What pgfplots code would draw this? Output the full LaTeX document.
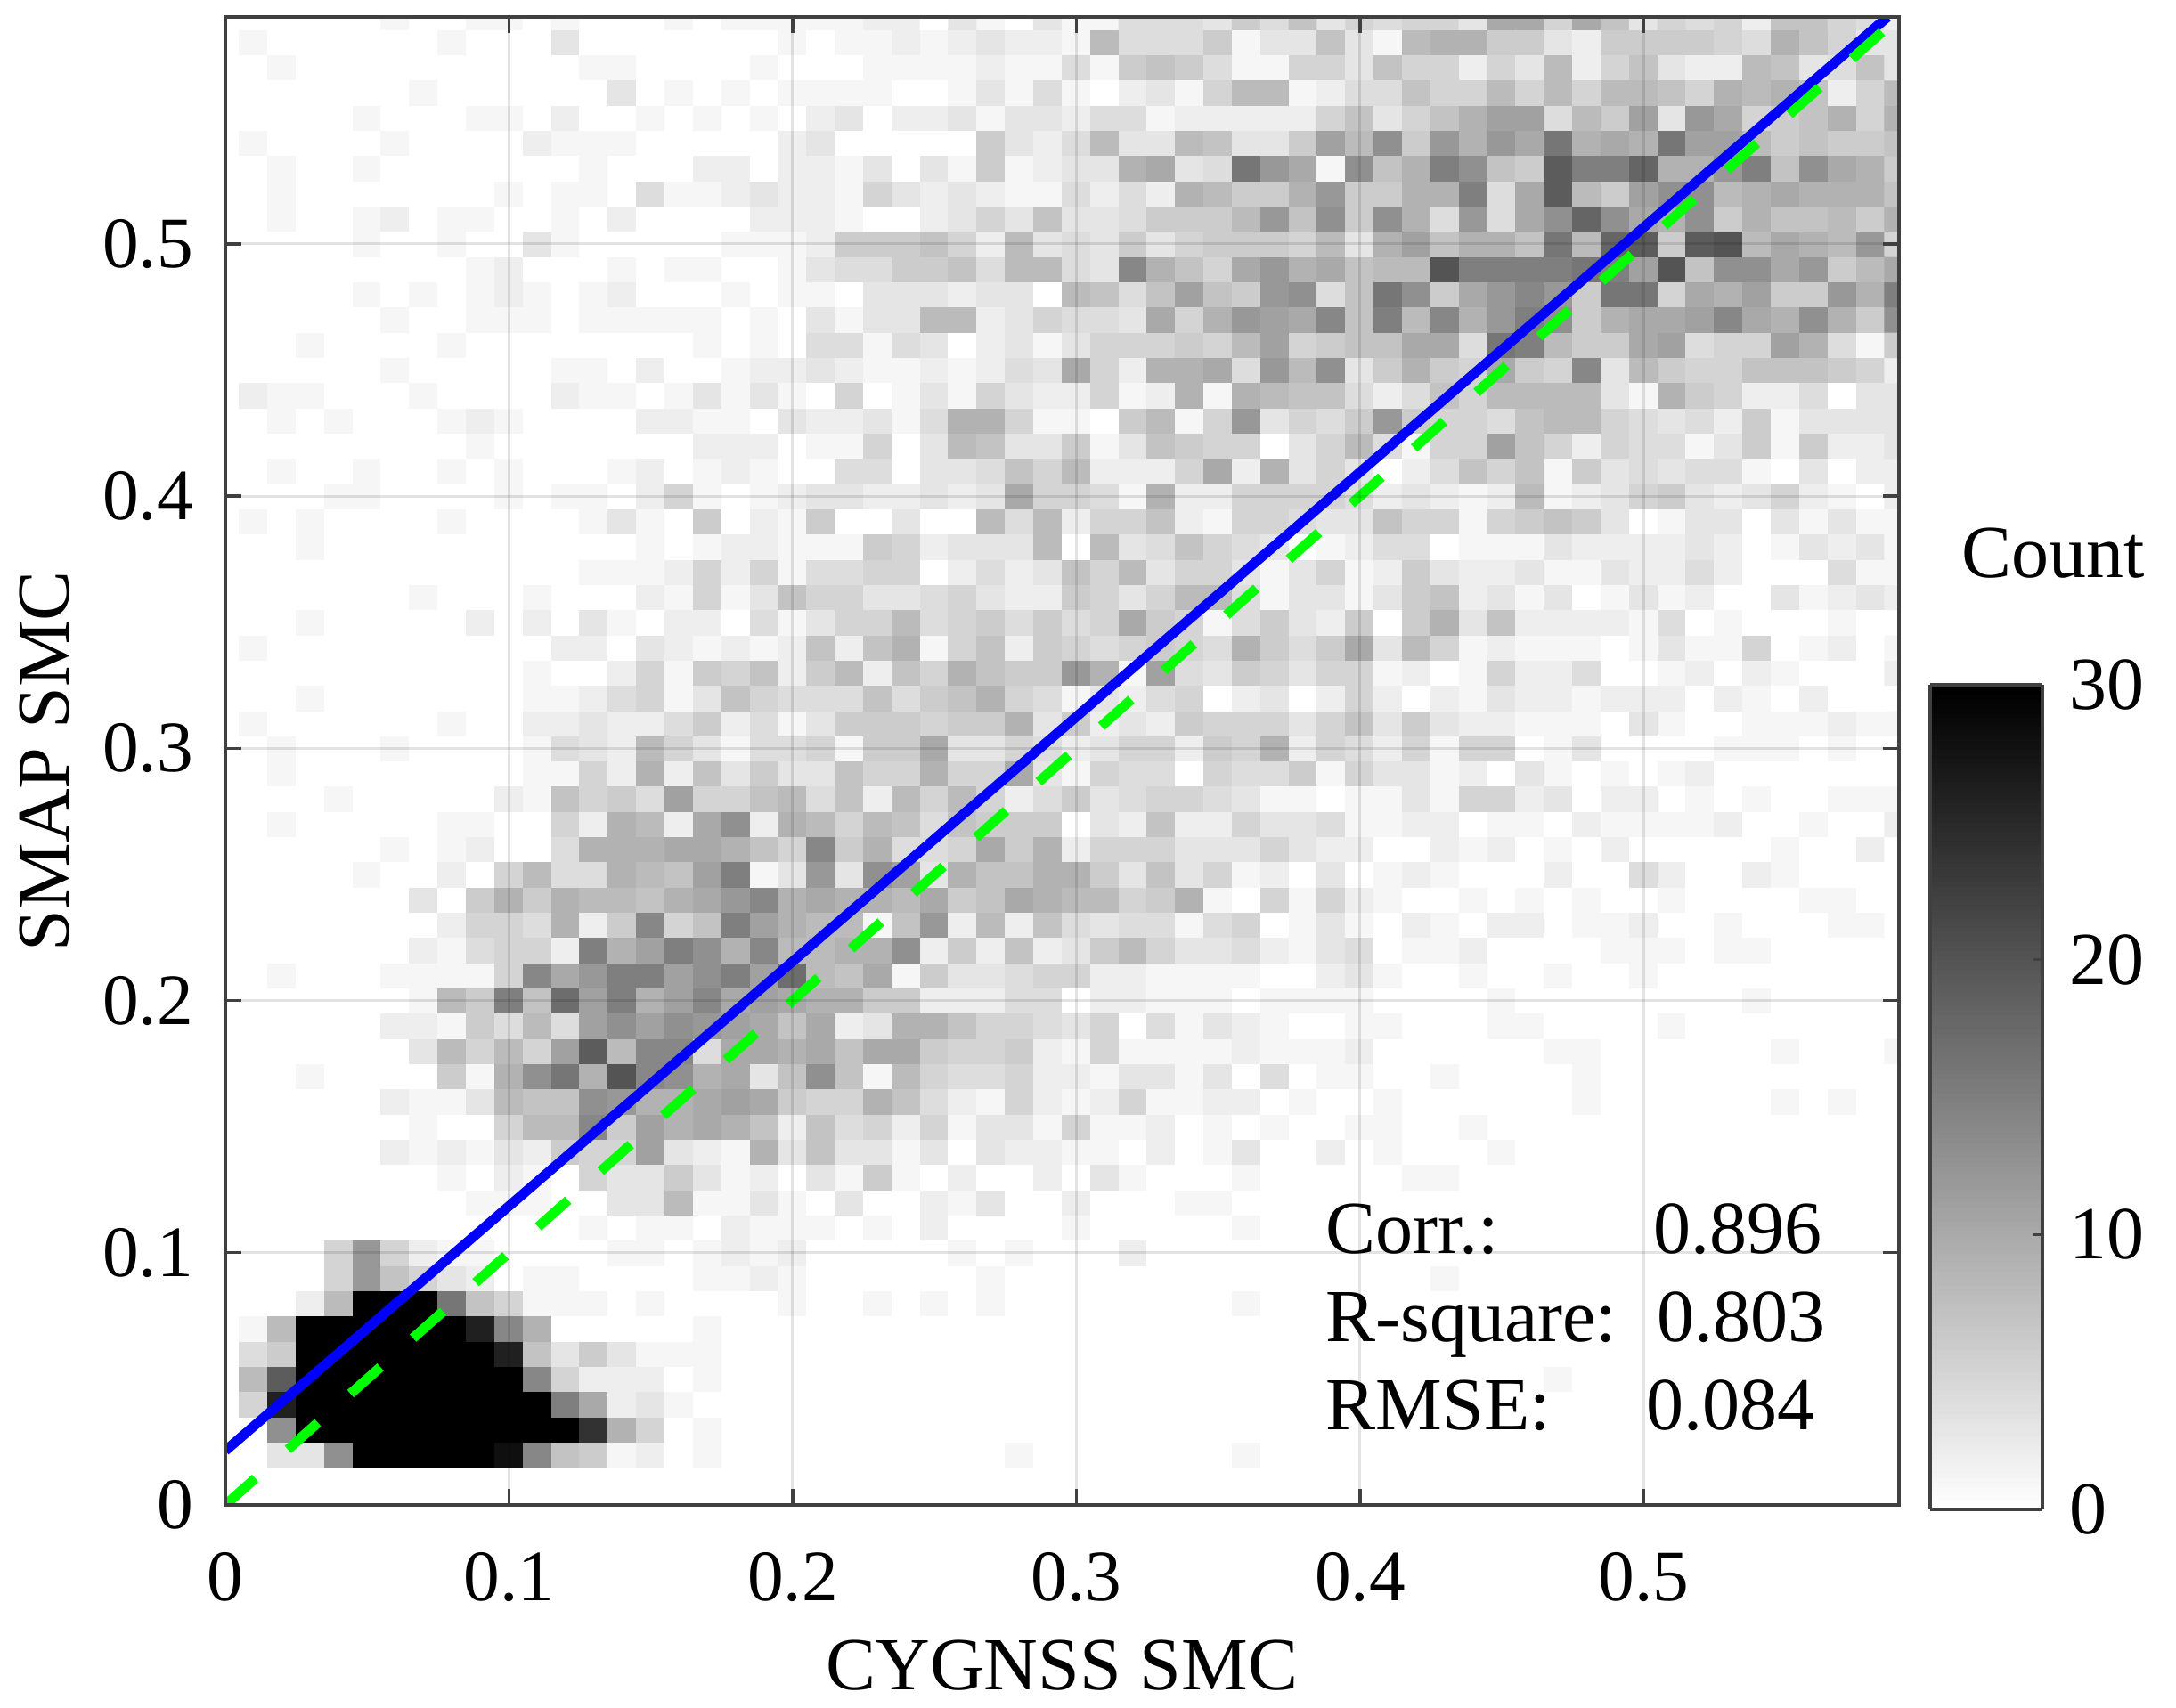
\documentclass[border=0pt]{standalone}
\usepackage{fontspec}
\setmainfont{Liberation Serif}
\usepackage{pgfplots}
\usepackage{pgfplotstable}
\pgfplotsset{compat=1.18}
\newcommand\lab{\fontsize{25.2}{29}\selectfont}
\newcommand\tik{\fontsize{24.4}{28}\selectfont}
\definecolor{frame}{HTML}{404040}
\pgfplotstableread[header=false]{
0 0 0 0 0 0 1 0 0 1 1 0 1 0 0 0 1 0 1 1 1 1 1 2 2 0 3 1 0 3 1 1 4 4 4 3 6 4 7 3 5 4 5 5 3 10 10 5 10 7 3 5 4 5 2 7 7 5 4 2
0 1 0 0 0 0 0 0 1 0 0 0 3 0 0 0 0 0 0 0 1 0 1 1 2 1 2 3 2 2 1 8 4 4 4 6 1 3 3 7 3 1 8 9 9 6 6 3 2 6 6 6 6 5 4 9 7 5 3 3
0 0 1 0 0 0 0 0 0 0 0 0 0 1 1 0 0 0 0 1 0 0 0 1 1 1 1 2 1 1 4 1 6 7 6 4 1 1 5 5 3 7 5 5 2 5 3 8 2 5 7 3 2 2 8 7 3 4 7 3
0 0 0 0 0 0 0 1 0 0 0 0 0 0 3 0 1 0 1 0 1 1 1 1 0 0 1 3 1 4 1 0 2 3 1 5 8 8 1 2 4 4 7 5 5 8 5 8 5 8 8 7 5 9 8 9 7 2 5 8
0 0 0 0 0 1 0 0 0 1 1 0 2 0 0 1 0 1 0 1 0 2 3 0 2 2 3 1 3 3 2 4 4 1 2 2 2 2 2 5 7 3 5 7 9 11 11 4 8 6 11 3 12 10 5 6 7 9 5 9
0 1 0 0 0 0 1 0 0 0 0 2 1 1 1 0 0 0 0 0 2 3 0 0 0 0 0 6 3 2 4 8 3 3 8 7 3 3 6 11 8 13 6 12 9 12 10 16 9 10 9 16 11 11 8 6 7 6 6 7
0 0 1 0 0 1 0 0 0 0 0 0 0 1 0 0 0 2 2 0 2 2 1 3 0 3 1 6 1 2 3 3 9 10 3 4 16 12 10 1 13 7 9 15 13 7 6 19 15 15 18 9 9 12 15 7 13 10 9 6
0 0 1 0 0 0 0 0 0 0 1 0 1 1 0 4 1 1 2 3 2 2 1 5 3 2 3 2 1 1 4 2 4 2 9 8 6 6 9 12 6 6 9 9 15 4 10 19 8 6 11 13 13 8 9 10 9 9 9 7
0 0 1 0 0 1 2 0 1 1 0 0 1 0 2 0 0 0 0 2 2 2 1 0 0 2 3 5 3 7 3 3 4 6 6 6 8 12 7 13 6 13 9 4 12 4 10 13 18 13 10 9 13 6 9 7 7 8 6 9
0 0 0 0 0 1 0 0 1 0 0 3 1 0 0 0 0 0 1 1 1 2 6 6 6 7 5 2 8 3 4 3 6 3 5 6 6 6 5 8 3 9 11 7 9 9 7 16 8 18 19 6 19 20 8 10 9 8 12 5
0 0 0 0 0 0 0 0 0 1 2 0 0 0 1 0 1 1 0 0 1 3 4 4 6 6 7 4 8 8 4 3 14 9 7 5 10 12 9 10 7 8 8 20 15 15 15 15 16 15 11 20 7 13 13 10 12 6 8 10
0 0 0 0 0 1 0 1 0 1 2 1 0 1 2 0 0 0 1 0 1 1 0 3 3 3 2 3 3 0 8 7 4 7 11 7 6 12 13 4 7 16 13 6 10 12 14 12 6 16 16 5 10 9 11 6 6 12 9 15
0 0 0 0 0 0 1 0 0 1 1 1 0 1 1 1 1 1 0 1 0 3 1 3 3 8 8 2 3 5 4 4 3 10 5 9 12 11 10 14 7 15 8 14 9 12 15 13 6 9 10 10 11 14 10 9 13 9 6 13
0 0 0 1 0 0 0 0 1 0 0 0 0 0 0 0 0 1 0 1 0 4 4 1 4 3 0 2 3 1 3 5 5 5 6 5 8 11 5 6 7 7 10 10 4 16 15 8 6 6 10 11 4 5 5 11 9 4 1 6
0 0 0 0 0 0 1 0 0 0 0 0 1 1 0 2 0 0 1 2 2 3 2 1 1 2 1 2 4 3 10 5 2 9 9 10 4 12 8 13 3 6 9 6 5 10 6 5 14 3 8 6 5 5 7 7 7 6 5 2
0 2 1 1 0 0 0 1 0 0 0 0 2 1 1 0 1 3 1 3 1 0 5 0 1 3 1 5 3 2 2 5 1 2 9 1 9 8 7 7 4 2 4 7 5 8 8 8 8 3 1 9 6 5 2 2 4 0 3 3
0 0 1 0 1 0 0 0 1 2 1 0 0 0 0 2 2 1 1 0 3 2 2 3 1 4 9 9 5 1 1 0 6 8 1 5 12 3 5 4 6 12 6 5 5 4 7 8 8 5 4 3 4 2 6 1 3 3 3 3
0 0 0 0 0 0 0 0 0 1 0 0 0 0 0 0 0 2 2 2 0 1 1 5 0 3 8 7 3 3 6 1 3 7 6 5 5 0 3 5 8 4 1 5 5 11 7 5 2 5 4 4 1 3 6 1 6 2 2 3
0 0 1 0 0 1 0 0 1 0 1 0 0 0 1 2 0 1 2 1 0 0 4 4 0 3 3 4 7 5 8 2 2 2 5 10 2 9 3 5 3 0 2 4 7 5 7 1 6 3 4 3 4 4 1 0 3 0 2 2
0 0 0 0 1 1 0 0 0 0 1 0 1 1 0 2 5 1 0 1 2 3 3 2 2 3 2 3 10 5 5 4 1 9 2 2 5 5 5 5 4 2 3 2 1 2 8 1 2 3 5 6 3 2 3 5 2 1 0 2
0 1 0 1 0 0 0 0 1 0 0 0 0 1 3 1 0 6 0 2 1 6 0 0 3 0 0 8 4 8 2 5 5 7 2 1 5 5 4 3 3 7 5 5 1 5 6 7 6 3 0 1 3 3 0 3 1 3 1 1
0 0 0 1 0 0 0 0 0 0 0 0 0 0 0 1 0 1 2 2 1 1 1 6 5 2 3 3 3 8 0 8 3 4 7 5 4 3 0 1 2 4 4 0 1 1 1 3 2 2 2 2 3 2 0 1 3 2 3 1
0 0 0 0 0 0 0 0 0 0 0 0 0 1 1 1 2 5 2 5 1 4 4 5 5 0 2 4 2 3 7 5 8 3 5 5 3 1 3 5 1 2 6 3 2 2 3 1 1 3 2 2 4 2 0 0 0 4 1 1
0 0 0 0 0 0 0 1 0 0 0 1 0 0 0 2 1 5 1 3 7 5 5 3 3 4 5 3 2 2 6 5 3 5 8 8 4 1 3 3 1 3 6 7 2 3 1 3 0 1 3 1 2 0 0 3 1 2 3 2
0 0 0 1 0 0 0 0 0 2 0 2 0 3 1 0 2 2 0 4 1 3 5 5 8 4 5 6 4 6 4 5 10 6 5 1 4 6 3 2 6 0 6 9 3 7 2 2 2 2 1 4 0 1 0 0 0 1 0 0
0 1 0 0 0 0 0 0 0 0 0 0 2 2 0 3 2 1 2 1 2 7 2 7 9 1 5 7 2 6 5 4 5 6 5 4 9 6 4 6 10 3 8 5 1 2 1 1 1 0 1 3 1 1 5 0 1 2 0 1
0 0 0 0 0 0 0 0 0 0 0 1 0 0 2 5 1 6 5 7 2 6 8 2 7 5 9 7 6 6 12 9 1 11 4 3 6 5 3 5 5 1 2 0 1 5 2 2 4 0 0 1 2 0 2 1 0 0 0 2
0 0 0 1 0 0 0 0 0 0 0 1 1 2 4 5 1 3 7 5 4 4 4 7 4 6 7 9 5 4 1 3 2 4 5 0 2 3 0 2 5 2 0 2 1 3 2 2 1 2 2 2 0 2 1 0 2 0 0 0
0 1 0 0 0 0 0 0 1 0 0 2 2 3 2 2 4 6 2 4 1 3 6 6 6 5 6 6 9 3 6 2 3 2 6 5 5 5 3 5 7 3 6 3 2 2 1 1 1 0 3 1 0 0 1 1 1 2 1 1
0 0 1 0 0 0 1 0 0 0 0 1 4 3 2 8 5 3 1 4 4 5 1 6 6 10 3 3 5 4 2 3 5 5 2 6 5 9 2 5 4 2 5 1 5 5 0 1 3 0 0 0 0 1 1 1 0 1 0 0
0 0 1 0 0 0 0 0 0 0 0 1 1 5 2 9 2 7 3 6 3 3 7 5 5 9 5 5 10 3 1 5 4 4 0 5 4 4 6 1 5 3 3 1 2 0 3 1 0 1 0 1 2 0 0 0 0 0 0 0
0 0 0 0 1 0 0 0 0 0 2 1 7 5 6 4 11 5 5 7 8 4 7 2 8 5 8 5 2 4 6 3 4 5 5 4 3 1 1 0 1 1 3 1 5 5 2 3 0 2 2 0 1 0 1 0 0 1 1 1
0 0 1 0 0 0 0 0 1 1 0 0 5 2 9 8 2 10 13 2 9 8 5 8 7 4 7 6 6 6 0 3 2 7 2 2 5 3 3 4 1 1 2 2 0 1 1 0 2 1 1 1 1 2 0 0 1 0 0 2
0 0 0 0 0 0 1 0 1 2 0 0 4 9 9 9 10 10 9 7 5 14 6 9 4 4 5 10 6 9 2 5 5 5 3 3 3 5 3 2 2 0 0 2 1 2 0 1 0 2 0 0 0 0 0 1 0 0 2 0
0 0 0 0 0 1 0 0 2 0 5 8 4 4 9 8 7 11 15 1 3 12 3 13 11 3 9 7 7 9 9 6 3 7 3 5 1 2 0 3 0 1 2 1 0 0 0 2 0 0 4 2 0 0 2 1 0 0 0 0
0 0 0 0 0 0 0 3 0 6 9 6 9 8 8 7 9 10 12 14 9 10 9 9 8 10 6 7 10 9 8 8 5 6 9 1 0 5 1 5 2 1 0 0 1 0 1 0 1 0 0 1 0 0 0 0 1 1 0 0
0 0 0 0 0 0 0 0 2 5 5 4 9 2 6 14 5 7 15 11 9 8 8 1 7 12 2 8 2 7 4 3 4 4 1 4 5 0 1 3 1 0 2 1 0 2 2 0 1 1 2 0 0 1 0 0 0 1 1 0
0 0 0 0 0 0 0 2 1 4 5 5 2 15 9 11 15 13 9 14 8 8 9 9 13 2 6 2 7 2 3 6 8 5 3 3 4 2 1 3 4 0 1 1 2 0 0 0 0 1 1 1 0 1 1 0 0 0 0 0
0 0 1 0 0 0 1 1 1 1 5 14 10 12 15 15 11 13 15 11 17 8 7 10 1 6 3 3 4 5 5 2 2 1 1 1 1 0 0 2 3 1 0 0 1 0 0 1 0 0 1 0 0 0 0 0 0 0 0 0
0 0 0 0 0 0 0 1 8 6 15 7 17 11 15 9 11 14 10 11 10 9 9 6 6 2 2 2 4 4 0 2 2 1 1 1 0 1 1 1 1 0 0 0 0 1 0 0 0 0 0 0 0 0 1 0 0 0 0 0
0 0 0 0 0 0 2 2 1 6 4 8 4 11 13 11 13 12 11 10 7 10 2 3 9 9 7 5 5 4 3 5 0 4 1 3 2 1 0 0 1 1 0 0 0 1 1 0 0 0 0 1 0 0 0 0 0 0 0 0
0 0 0 0 0 0 0 3 8 5 8 5 11 19 8 14 14 4 10 10 9 10 7 10 10 6 5 5 6 2 1 5 1 1 1 1 2 1 1 1 2 0 0 0 0 0 0 1 1 0 0 0 0 0 0 1 0 0 0 1
0 0 0 1 0 0 0 0 6 1 9 13 16 9 20 14 13 9 10 3 7 13 7 1 8 5 4 4 5 2 2 1 3 3 1 3 0 4 0 1 1 0 0 1 0 0 0 0 1 0 0 0 0 0 0 0 0 0 0 0
0 0 0 0 0 0 2 1 1 3 8 7 7 13 12 9 9 10 11 10 6 5 5 9 7 4 2 1 5 2 1 2 5 1 1 2 2 0 1 0 0 1 0 0 0 0 0 0 1 0 0 0 0 0 0 1 0 1 0 0
0 0 0 0 0 0 0 1 0 0 5 8 8 14 6 11 9 10 9 7 2 7 4 5 2 5 1 3 3 1 5 1 1 2 0 1 0 1 0 0 1 1 0 0 1 0 0 0 0 0 0 0 0 0 0 0 0 0 0 0
0 0 0 0 0 0 2 1 2 1 3 2 6 5 5 11 3 2 1 9 3 7 3 3 1 3 0 3 2 2 1 1 0 2 0 1 3 0 0 2 0 1 0 0 0 1 0 0 0 0 0 0 0 0 0 0 0 0 0 0
0 0 0 0 0 0 0 0 1 0 2 1 0 5 3 3 6 3 1 2 0 3 1 6 1 0 2 0 0 2 0 3 1 0 0 0 1 0 0 0 0 0 1 1 0 0 0 0 0 0 0 0 0 0 0 0 0 0 0 0
0 0 0 0 0 0 0 0 0 1 1 1 0 0 3 3 8 1 1 3 1 0 3 0 0 2 1 3 0 0 2 0 0 0 1 1 0 0 0 0 0 0 0 0 0 0 0 0 0 0 0 0 0 0 0 0 0 0 0 0
0 0 0 0 0 0 0 0 0 0 0 0 0 1 0 1 1 0 2 1 1 1 0 1 0 2 0 0 0 0 1 0 0 0 0 0 1 0 0 0 0 0 0 0 0 0 0 0 0 0 0 0 0 0 0 0 0 0 0 0
0 0 0 0 5 12 5 2 1 1 0 0 0 0 1 1 0 1 2 1 2 0 0 0 0 0 1 0 1 0 0 0 2 0 0 0 0 0 0 0 0 0 0 0 0 0 0 0 0 0 0 0 0 0 0 0 0 0 0 0
0 0 0 0 5 12 7 5 3 2 0 1 1 0 0 0 0 1 1 2 1 0 0 0 0 0 0 1 0 0 0 0 0 0 0 0 0 0 0 0 0 0 0 1 0 0 0 0 0 0 0 0 0 0 0 0 0 0 0 0
0 0 0 2 8 30 30 30 16 7 5 1 1 1 0 1 0 0 0 0 1 0 0 1 0 1 0 1 0 0 0 0 0 0 0 0 1 0 0 0 0 0 0 0 0 0 0 0 0 0 0 0 0 0 0 0 0 0 0 0
0 1 8 30 30 30 30 30 30 26 14 9 0 0 0 0 0 1 0 0 0 0 0 0 0 0 0 0 0 0 0 0 0 0 0 0 0 0 0 0 0 0 0 0 0 0 0 0 0 0 0 0 0 0 0 0 0 0 0 0
0 4 6 30 30 30 30 30 30 30 26 7 3 6 3 1 1 1 0 0 0 0 0 0 0 0 0 0 0 0 0 0 0 0 0 0 0 0 0 0 0 0 0 0 0 0 0 0 0 0 0 0 0 0 0 0 0 0 0 0
0 8 19 30 30 30 30 30 30 30 30 14 5 2 2 2 0 1 0 0 0 0 0 0 0 0 0 0 0 0 0 0 0 0 0 0 0 0 0 0 0 0 0 0 0 0 0 1 0 0 0 0 0 0 0 0 0 0 0 0
0 5 26 30 30 30 30 30 30 30 30 30 15 10 2 3 1 0 0 0 0 0 0 0 0 0 0 0 0 0 0 0 0 0 0 0 0 0 0 0 0 0 0 0 0 0 0 0 0 0 0 0 0 0 0 0 0 0 0 0
0 0 13 30 30 30 30 30 30 30 30 30 30 24 9 5 0 1 0 0 0 0 0 0 0 0 0 0 0 0 0 0 0 0 0 0 0 0 0 0 0 0 0 0 0 0 0 0 0 0 0 0 0 0 0 0 0 0 0 0
0 0 3 3 13 30 30 30 30 30 28 14 7 6 1 2 0 1 0 0 0 0 0 0 0 0 0 0 1 0 0 0 0 0 0 0 1 0 0 0 0 0 0 0 0 0 0 0 0 0 0 0 0 0 0 0 0 0 0 0
0 0 0 0 0 0 0 0 0 0 0 0 0 0 0 0 0 0 0 0 0 0 0 0 0 0 0 0 0 0 0 0 0 0 0 0 0 0 0 0 0 0 0 0 0 0 0 0 0 0 0 0 0 0 0 0 0 0 0 0
0 0 0 0 0 0 0 0 0 0 0 0 0 0 0 0 0 0 0 0 0 0 0 0 0 0 0 0 0 0 0 0 0 0 0 0 0 0 0 0 0 0 0 0 0 0 0 0 0 0 0 0 0 0 0 0 0 0 0 0
}\histdata
\gdef\hlist{}
\foreach \yy in {0,...,59}{%
  \pgfmathtruncatemacro\rr{59-\yy}%
  \gdef\hrow{}%
  \foreach \xx in {0,...,59}{%
    \pgfplotstablegetelem{\rr}{[index]\xx}\of\histdata
    \xdef\hrow{\hrow (\ifnum\xx<10 0.0\xx\else 0.\xx\fi,\ifnum\yy<10 0.0\yy\else 0.\yy\fi) [\pgfplotsretval] }%
  }%
  \xdef\hlist{\hlist\hrow}%
}
\def\plothist#1{\addplot[matrix plot*, mesh/cols=60, mesh/ordering=x varies, point meta=explicit] coordinates {#1};}
\begin{document}
\begin{tikzpicture}
\useasboundingbox (-75.9pt,-68.1pt) rectangle (657pt,507pt);
\begin{axis}[
  scale only axis, width=563.7pt, height=501.3pt,
  xmin=0, xmax=0.59, ymin=0, ymax=0.59,
  axis on top,
  colormap={invgray}{gray(0cm)=(1); gray(1cm)=(0)},
  point meta min=0, point meta max=30,
  xtick={0,0.1,0.2,0.3,0.4,0.5}, ytick={0,0.1,0.2,0.3,0.4,0.5},
  xticklabels={0,0.1,0.2,0.3,0.4,0.5}, yticklabels={0,0.1,0.2,0.3,0.4,0.5},
  tick align=inside, tick pos=both, xticklabel pos=bottom, yticklabel pos=left,
  major tick length=5.4pt,
  tick style={draw=frame, line width=1pt},
  axis line style={draw=frame, line width=1pt},
  grid=major, major grid style={draw=black, opacity=0.11, line width=0.9pt},
  x tick label style={font=\tik, anchor=base, yshift=-32.1pt, inner sep=0pt},
  y tick label style={font=\tik, anchor=east, xshift=-10.6pt, inner sep=0pt},
  xlabel={CYGNSS SMC}, ylabel={SMAP SMC},
  xlabel style={font=\lab, at={(axis description cs:0.5,0)}, anchor=base, yshift=-62.1pt, inner sep=0pt},
  ylabel style={font=\lab, at={(axis description cs:0,0.5)}, anchor=base, yshift=52.5pt, inner sep=0pt},
  colorbar sampled,
  colorbar style={
    samples=181,
    at={(1.01863,-0.003)}, anchor=south west,
    width=37.8pt, height=277.8pt,
    ytick={0,10,20,30}, yticklabels={0,10,20,30},
    ytick pos=right, yticklabel pos=right, tick align=inside,
    major tick length=3pt,
    tick style={draw=frame, line width=0.8pt},
    axis line style={draw=frame, line width=1pt},
    y tick label style={font=\lab, anchor=west, xshift=9pt, inner sep=0pt},
    grid=none,
  },
]
\expandafter\plothist\expandafter{\hlist}
\addplot[color={rgb,1:red,0;green,0;blue,1}, line width=3.3pt, forget plot] coordinates {(0,0.0215) (0.586,0.59)};
\addplot[color={rgb,1:red,0;green,1;blue,0}, line width=3.3pt, dash pattern=on 13.5pt off 14.7pt, forget plot] coordinates {(0,0) (0.59,0.59)};
\end{axis}
\node[font=\lab, anchor=base west, inner sep=0pt] at (370.5pt,84.6pt) {Corr.:};
\node[font=\lab, anchor=base west, inner sep=0pt] at (370.5pt,54.9pt) {R-square:};
\node[font=\lab, anchor=base west, inner sep=0pt] at (370.5pt,25.5pt) {RMSE:};
\node[font=\lab, anchor=base west, inner sep=0pt] at (480.9pt,84.6pt) {0.896};
\node[font=\lab, anchor=base west, inner sep=0pt] at (482.1pt,54.9pt) {0.803};
\node[font=\lab, anchor=base west, inner sep=0pt] at (478.5pt,25.5pt) {0.084};
\node[font=\lab, anchor=base west, inner sep=0pt] at (584.7pt,312.3pt) {Count};
\end{tikzpicture}
\end{document}
